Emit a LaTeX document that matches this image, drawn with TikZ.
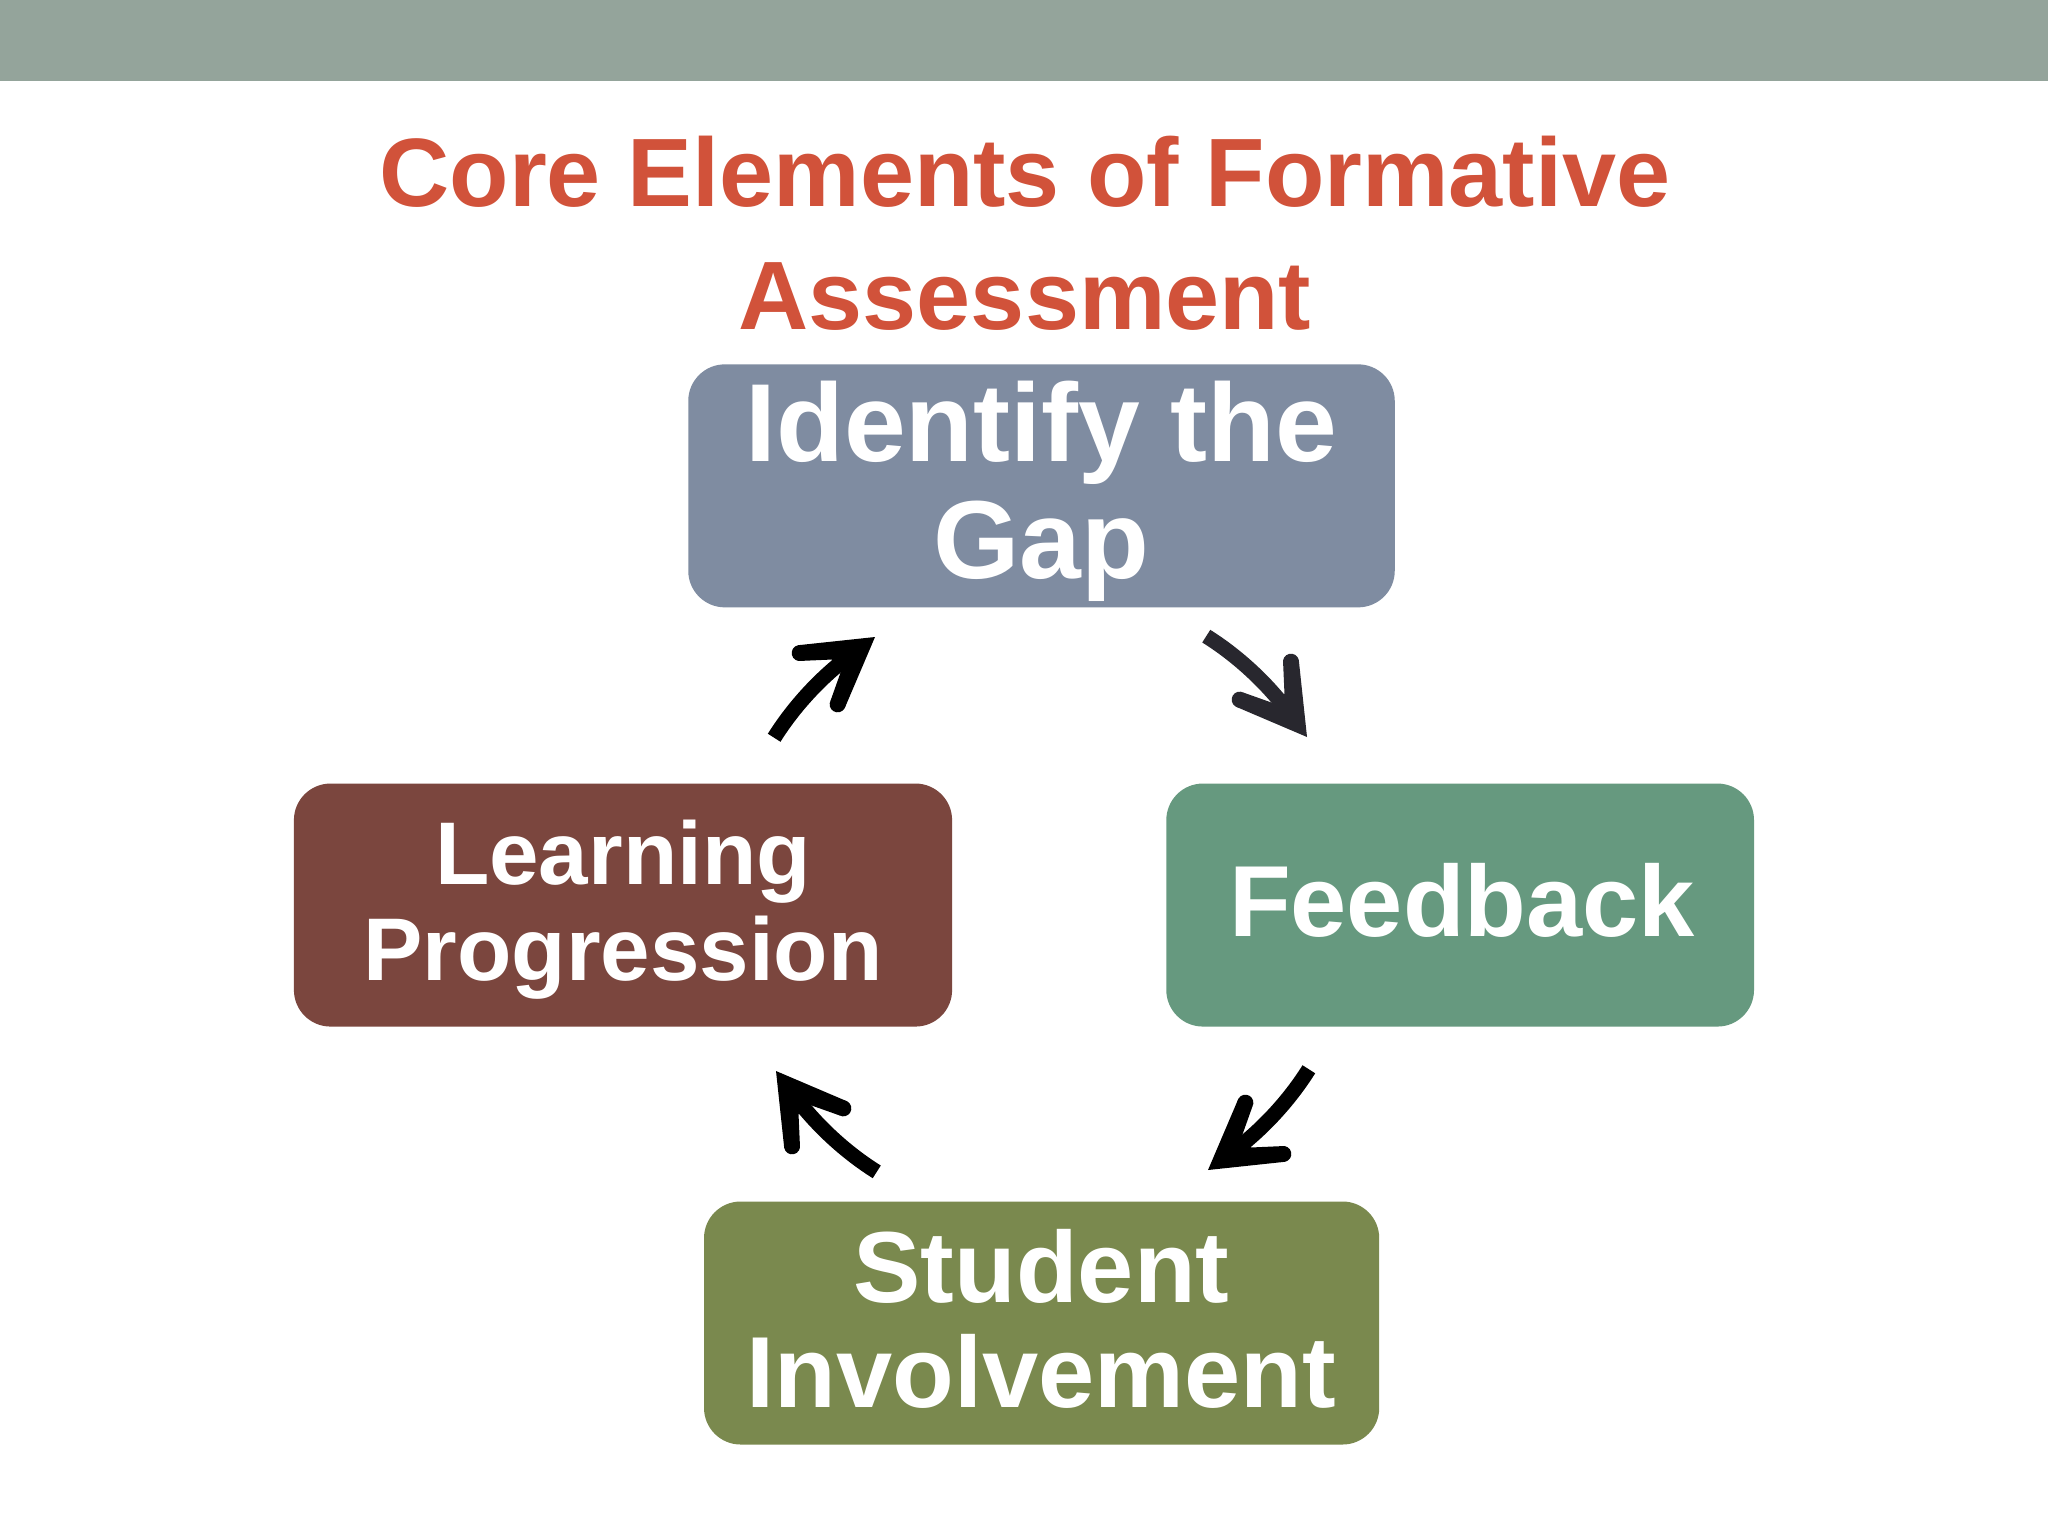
\documentclass[tikz,border=0pt]{standalone}
\usepackage{fontspec}
\setmainfont{Liberation Sans}
\definecolor{barcol}{HTML}{94A49B}
\definecolor{titlecol}{HTML}{D1523A}
\definecolor{gapcol}{HTML}{7F8CA1}
\definecolor{feedcol}{HTML}{66997F}
\definecolor{learncol}{HTML}{7B463E}
\definecolor{studcol}{HTML}{7A894E}
\definecolor{darkarrow}{HTML}{28272E}
\tikzset{
  box/.style={fill=#1, rounded corners=18.3pt, inner sep=0pt, minimum height=121.5pt},
  boxtext/.style={anchor=base, text=white, inner sep=0pt, font=\bfseries\fontsize{#1}{#1}\selectfont},
  titletext/.style={anchor=base, text=titlecol, inner sep=0pt, font=\bfseries\fontsize{48.6pt}{48.6pt}\selectfont},
  cyclearrow/.pic={
    \draw[line width=7.5pt, line cap=butt] (-141,21) .. controls (-106.6,7.5) and (-67,0) .. (-30,0);
    \fill (0,0) -- (-66.8,-39.2) -- (-73.4,-24.6) -- (-48,-7.5) -- (-48,7.5) -- (-73.4,24.6) -- (-66.8,39.2) -- cycle;
    \fill (-70.1,-31.9) circle[radius=4pt];
    \fill (-70.1,31.9) circle[radius=4pt];
  }
}
\begin{document}
\begin{tikzpicture}[x=0.5pt,y=-0.5pt]
\useasboundingbox (0,0) rectangle (2048,1536);
\fill[white] (0,0) rectangle (2048,1536);
\fill[barcol] (0,0) rectangle (2048,81);
% title
\node[titletext] (title1) at (1025,206) {Core Elements of Formative};
\node[titletext] (title2) at (1025,329) {Assessment};
% boxes
\node[box=gapcol, minimum width=353.25pt] (gap) at (1041.5,485.85) {};
\node[box=feedcol, minimum width=293.85pt] (feed) at (1460.15,905.05) {};
\node[box=learncol, minimum width=329.1pt] (learn) at (623,905.05) {};
\node[box=studcol, minimum width=337.6pt] (stud) at (1041.6,1323) {};
% texts
\node[boxtext=55.5pt] (gapA) at (1041.5,461) {Identify the};
\node[boxtext=55.5pt] (gapB) at (1041.5,578) {Gap};
\node[boxtext=50.5pt] (feedA) at (1462,936) {Feedback};
\node[boxtext=44.5pt] (learnA) at (623,884) {Learning};
\node[boxtext=44.5pt] (learnB) at (623,980) {Progression};
\node[boxtext=50.5pt] (studA) at (1041.5,1302) {Student};
\node[boxtext=50.5pt] (studB) at (1041.5,1407) {Involvement};
% cycle arrows
\coordinate (tipUR) at (875,637);
\coordinate (tipDR) at (1307,737);
\coordinate (tipDL) at (1208,1170);
\coordinate (tipUL) at (776,1071);
\pic[rotate=36.5] at (tipUR) {cyclearrow};
\begin{scope}[darkarrow]
\pic[rotate=-53.5] at (tipDR) {cyclearrow};
\end{scope}
\pic[rotate=-143.5] at (tipDL) {cyclearrow};
\pic[rotate=126.5] at (tipUL) {cyclearrow};
\end{tikzpicture}
\end{document}
